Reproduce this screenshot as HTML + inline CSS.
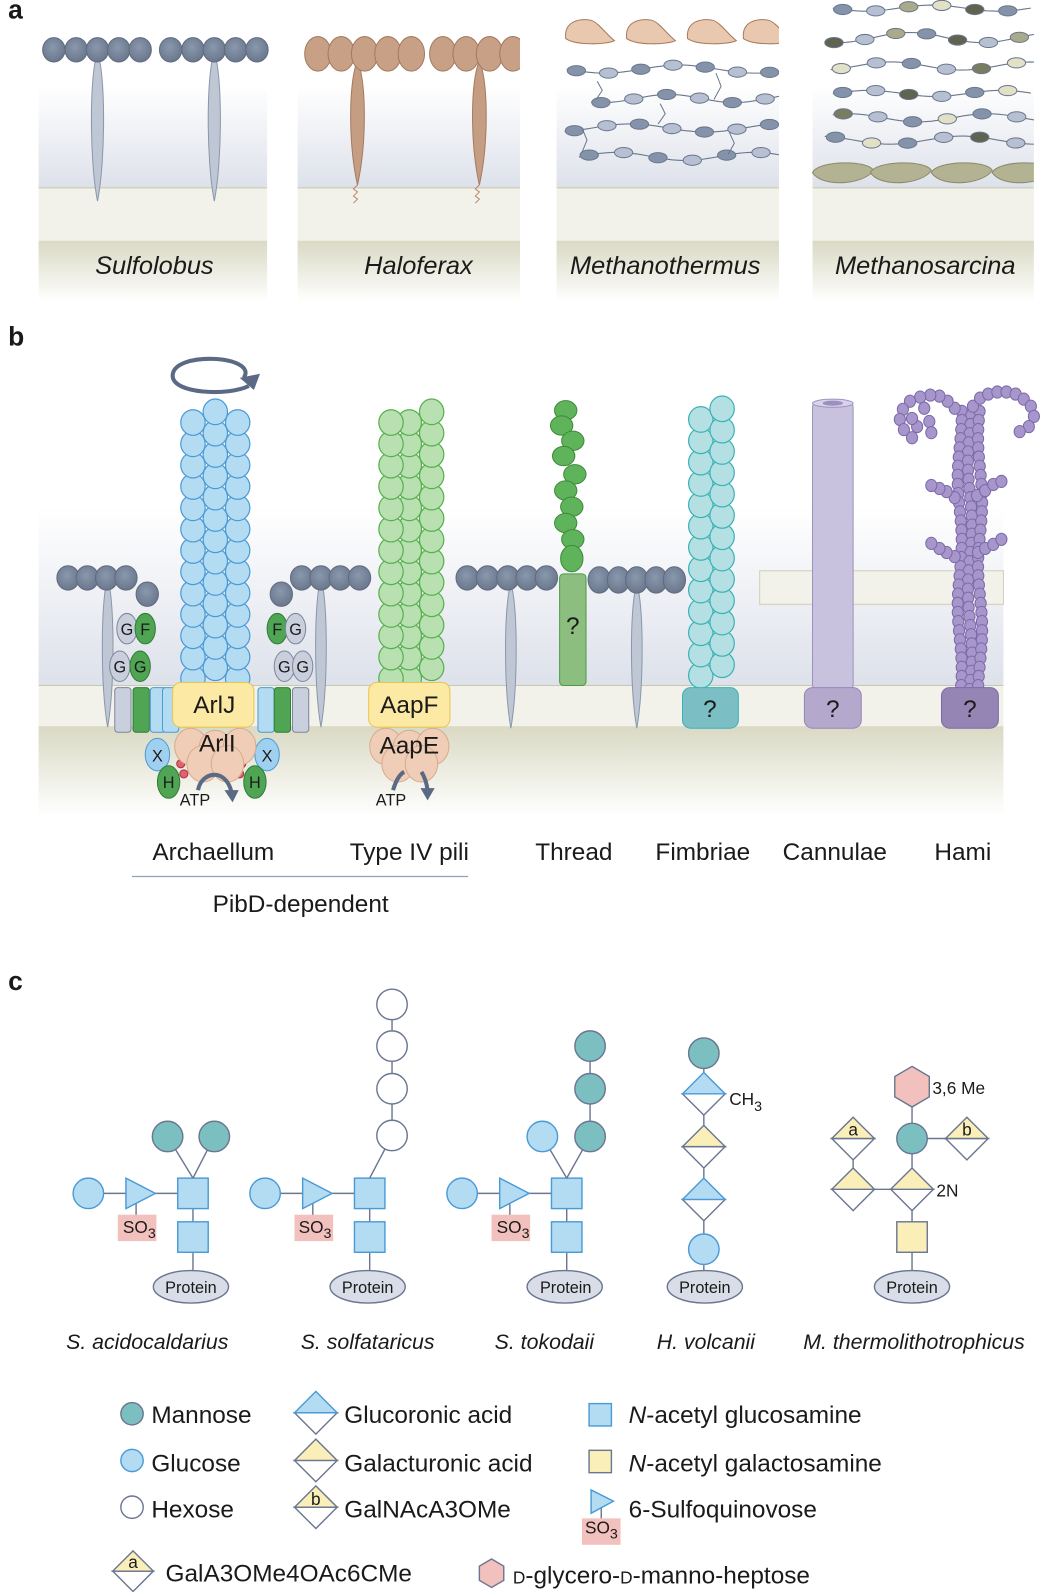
<!DOCTYPE html>
<html><head><meta charset="utf-8"><style>
html,body{margin:0;padding:0;background:#fff;width:1040px;height:1592px;overflow:hidden}
svg{display:block}
text{font-family:"Liberation Sans",sans-serif;fill:#1a1a1a}
</style></head><body>
<svg id="s" width="1040" height="1592" viewBox="0 0 1024 1567.5" preserveAspectRatio="none" xmlns="http://www.w3.org/2000/svg">
<defs>
<linearGradient id="sky" x1="0" y1="0" x2="0" y2="1"><stop offset="0" stop-color="#fff"/><stop offset="1" stop-color="#dde1ea"/></linearGradient>
<linearGradient id="band" x1="0" y1="0" x2="0" y2="1"><stop offset="0" stop-color="#d9d9c4"/><stop offset="1" stop-color="#fff"/></linearGradient>
<radialGradient id="gb" cx="0.45" cy="0.4" r="0.6"><stop offset="0" stop-color="#8a98ad"/><stop offset="1" stop-color="#6a778c"/></radialGradient>
</defs>
<g id="bg"></g>
<text x="8" y="18" font-size="26" font-weight="bold">a</text>
<text x="8" y="340" font-size="26" font-weight="bold">b</text>
<text x="8" y="975" font-size="26" font-weight="bold">c</text>
<g font-style="italic" font-size="25" text-anchor="middle">
<text x="152" y="270">Sulfolobus</text>
<text x="412" y="270">Haloferax</text>
<text x="655" y="270">Methanothermus</text>
<text x="911" y="270">Methanosarcina</text>
</g>
<g id="art"></g>
<g font-size="24" text-anchor="middle">
<text x="211" y="702">ArlJ</text>
<text x="214" y="740">ArlI</text>
<text x="403" y="702">AapF</text>
<text x="403" y="742">AapE</text>
<text x="564" y="624">?</text>
<text x="699" y="706">?</text>
<text x="820" y="706">?</text>
<text x="955" y="706">?</text>
</g>
<g font-size="16" text-anchor="middle">
<text x="192" y="793">ATP</text>
<text x="385" y="793">ATP</text>
<text x="125" y="625">G</text><text x="143" y="625">F</text>
<text x="118" y="662">G</text><text x="138" y="662">G</text>
<text x="273" y="625">F</text><text x="291" y="625">G</text>
<text x="280" y="662">G</text><text x="298" y="662">G</text>
<text x="155" y="750">X</text><text x="263" y="750">X</text>
<text x="166" y="776">H</text><text x="251" y="776">H</text>
</g>
<g font-size="24" text-anchor="middle">
<text x="210" y="847">Archaellum</text>
<text x="403" y="847">Type IV pili</text>
<text x="565" y="847">Thread</text>
<text x="692" y="847">Fimbriae</text>
<text x="822" y="847">Cannulae</text>
<text x="948" y="847">Hami</text>
<text x="296" y="898">PibD-dependent</text>
</g>
<line x1="130" y1="863" x2="461" y2="863" stroke="#8fa0c0" stroke-width="1.3"/>
<g id="glyc"></g>
<g font-size="16" text-anchor="middle">
<text x="188" y="1273">Protein</text><text x="362" y="1273">Protein</text><text x="557" y="1273">Protein</text>
<text x="694" y="1273">Protein</text><text x="898" y="1273">Protein</text>
</g>
<g font-size="17">
<text x="121" y="1214">SO<tspan font-size="14" dy="5">3</tspan></text>
<text x="294" y="1214">SO<tspan font-size="14" dy="5">3</tspan></text>
<text x="489" y="1214">SO<tspan font-size="14" dy="5">3</tspan></text>
<text x="576" y="1510">SO<tspan font-size="14" dy="5">3</tspan></text>
<text x="718" y="1088">CH<tspan font-size="14" dy="6">3</tspan></text>
<text x="918" y="1077">3,6 Me</text>
<text x="922" y="1178">2N</text>
<text x="840" y="1118" text-anchor="middle">a</text>
<text x="952" y="1118" text-anchor="middle">b</text>
<text x="311" y="1482" text-anchor="middle">b</text>
<text x="131" y="1544" text-anchor="middle">a</text>
</g>
<g font-size="21" font-style="italic" text-anchor="middle">
<text x="145" y="1328">S. acidocaldarius</text>
<text x="362" y="1328">S. solfataricus</text>
<text x="536" y="1328">S. tokodaii</text>
<text x="695" y="1328">H. volcanii</text>
<text x="900" y="1328">M. thermolithotrophicus</text>
</g>
<g font-size="24">
<text x="149" y="1401">Mannose</text>
<text x="149" y="1449">Glucose</text>
<text x="149" y="1494">Hexose</text>
<text x="339" y="1401">Glucoronic acid</text>
<text x="339" y="1449">Galacturonic acid</text>
<text x="339" y="1494">GalNAcA3OMe</text>
<text x="619" y="1401"><tspan font-style="italic">N</tspan>-acetyl glucosamine</text>
<text x="619" y="1449"><tspan font-style="italic">N</tspan>-acetyl galactosamine</text>
<text x="619" y="1494">6-Sulfoquinovose</text>
<text x="163" y="1557">GalA3OMe4OAc6CMe</text>
<text x="505" y="1559"><tspan font-size="17">D</tspan>-glycero-<tspan font-size="17">D</tspan>-manno-heptose</text>
</g>
</svg>
<script>
const NS="http://www.w3.org/2000/svg";
function el(g,t,a){const e=document.createElementNS(NS,t);for(const k in a)e.setAttribute(k,a[k]);document.getElementById(g).appendChild(e);return e;}
[[38,263],[293,512],[548,767],[800,1018]].forEach(([a,b])=>{
 el('bg','rect',{x:a,y:85,width:b-a,height:100,fill:'url(#sky)'});
 el('bg','rect',{x:a,y:185,width:b-a,height:52,fill:'#f2f2ea'});
 el('bg','line',{x1:a,y1:185,x2:b,y2:185,stroke:'#c8c8ae','stroke-width':1});
 el('bg','rect',{x:a,y:237,width:b-a,height:60,fill:'url(#band)'});
});
el('bg','rect',{x:38,y:500,width:950,height:175,fill:'url(#sky)'});
el('bg','rect',{x:38,y:675,width:950,height:40,fill:'#f2f2ea'});
el('bg','line',{x1:38,y1:675,x2:988,y2:675,stroke:'#c8c8ae'});
el('bg','rect',{x:38,y:715,width:950,height:88,fill:'url(#band)'});
el('bg','rect',{x:748,y:562,width:240,height:33,fill:'#f2f2ea',stroke:'#cfcfb8'});
const A='art';
function ell(x,y,rx,ry,f,s,w){return el(A,'ellipse',{cx:x,cy:y,rx:rx,ry:ry,fill:f,stroke:s||'none','stroke-width':w||1});}
function stalk(x,y1,y2,w,f,s){el(A,'path',{d:`M${x} ${y1} C${x+w} ${y1+20},${x+w} ${y2-40},${x} ${y2} C${x-w} ${y2-40},${x-w} ${y1+20},${x} ${y1}Z`,fill:f,stroke:s,'stroke-width':1});}
[96,211].forEach(x=>stalk(x,52,198,8,'#bfc7d5','#8b97ad'));
[53,75,96,117,138,168,190,211,232,253].forEach(x=>ell(x,49,11,12,'url(#gb)','#5f6b80'));
[352,472].forEach(x=>{stalk(x,60,182,9,'#c59d83','#a57a60');el(A,'path',{d:`M${x} 182 l-4 4 4 3 -4 4 4 3 -4 4`,fill:'none',stroke:'#b68a6e'});});
[313,336,359,382,405,436,459,482,505].forEach(x=>ell(x,53,13,17,'#c8a085','#a27a60'));
el(A,'rect',{x:512,y:30,width:20,height:50,fill:'#fff'});
[577,637,697,752].forEach(x=>el(A,'path',{d:`M${x-20} 38 C${x-22} 20,${x-5} 18,${x+5} 20 C${x+12} 22,${x+20} 34,${x+28} 40 C${x+20} 44,${x-10} 45,${x-20} 38Z`,fill:'#e8c9b0',stroke:'#a97a5c'}));
el(A,'rect',{x:767,y:10,width:30,height:40,fill:'#fff'});
function chain(x0,x1,y,amp,n,fills,ph){const pts=[];for(let i=0;i<=40;i++){const x=x0+(x1-x0)*i/40;const yy=y+amp*Math.sin(i/40*6.28*1.5+ph);pts.push(x+' '+yy.toFixed(1));}
 el(A,'polyline',{points:pts.join(','),fill:'none',stroke:'#6a778c','stroke-width':1.1});
 for(let i=0;i<n;i++){const t=(i+0.3)/n;const x=x0+(x1-x0)*t;const yy=y+amp*Math.sin(t*6.28*1.5+ph);ell(x,yy,9,5,fills[i%fills.length],'#6a778c',1);}}
const F1=['#8593aa','#b7c0d2'];
chain(558,780,68,4,7,F1,0);chain(582,776,97,4,6,F1,1);chain(556,780,126,4,7,F1,2);chain(570,773,154,4,6,F1,3);
[[588,80,587,98],[705,72,703,98],[650,102,648,122],[573,126,573,150],[718,130,717,152]].forEach(a=>el(A,'polyline',{points:`${a[0]},${a[1]} ${a[0]+5},${(a[1]+a[3])/2} ${a[2]},${a[3]}`,fill:'none',stroke:'#6a778c'}));
el(A,'rect',{x:767,y:55,width:30,height:120,fill:'#fff'});
const F2=['#8593aa','#b7c0d2','#a9aa8a','#e2e0c6','#5f6350'];
chain(820,1015,8,3,6,F2,0);chain(812,1025,37,5,7,['#5f6350','#b7c0d2','#a9aa8a','#8593aa'],1);chain(818,1025,65,4,6,['#e2e0c6','#b7c0d2','#8593aa','#b7c0d2','#7a7c62'],2);
chain(820,1015,92,3,6,['#8593aa','#b7c0d2','#5f6350','#b7c0d2','#8593aa','#e2e0c6'],3);chain(820,1025,116,4,6,['#7a7c62','#b7c0d2','#8593aa','#e2e0c6','#8593aa','#b7c0d2'],4);chain(812,1025,138,4,6,['#8593aa','#e2e0c6','#8593aa','#b7c0d2','#5f6350','#b7c0d2'],5);
[830,887,947,1007].forEach(x=>el(A,'path',{d:`M${x-30} 170 C${x-25} 158,${x+25} 157,${x+30} 168 C${x+20} 182,${x-20} 185,${x-30} 170Z`,fill:'#b3b393',stroke:'#8a8a6a'}));
el(A,'rect',{x:1018,y:0,width:22,height:300,fill:'#fff'});
stalk(106,570,716,7,'#bfc7d5','#8b97ad');stalk(316,570,716,7,'#bfc7d5','#8b97ad');
[67,86,105,124].forEach(x=>ell(x,569,11,12,'url(#gb)','#5f6b80'));ell(145,585,11,12,'url(#gb)','#5f6b80');
[297,316,335,354].forEach(x=>ell(x,569,11,12,'url(#gb)','#5f6b80'));ell(277,585,11,12,'url(#gb)','#5f6b80');
[[125,619,'#c9cfdc'],[143,619,'#4fa553'],[118,656,'#c9cfdc'],[138,656,'#4fa553'],[273,619,'#4fa553'],[291,619,'#c9cfdc'],[280,656,'#c9cfdc'],[298,656,'#c9cfdc']].forEach(a=>ell(a[0],a[1],10,15,a[2],a[2]=='#4fa553'?'#2f7d35':'#7c879c',1));
[[113,'#c9cfdc','#7c879c'],[131,'#4fa553','#2f7d35'],[148,'#b3dcf3','#4a9ad6'],[160,'#b3dcf3','#4a9ad6'],[254,'#b3dcf3','#4a9ad6'],[270,'#4fa553','#2f7d35'],[288,'#c9cfdc','#7c879c']].forEach(a=>el(A,'rect',{x:a[0],y:677,width:16,height:44,rx:3,fill:a[1],stroke:a[2]}));
[[155,743],[263,743]].forEach(a=>ell(a[0],a[1],12,16,'#9fd0f0','#4a9ad6'));
[[166,770],[251,770]].forEach(a=>ell(a[0],a[1],11,16,'#4fa553','#2f7d35'));
[[178,752],[181,762],[238,752],[236,762]].forEach(a=>ell(a[0],a[1],4,4,'#e06470','#b03040'));
function column(xs,y0,y1,r,f,s,step){xs.forEach((x,i)=>{for(let y=y1;y>=y0;y-=step)ell(x,y-(i%2)*step/2,r,r*1.05,f,s,1.2);});}
column([190,212,234],405,668,12,'#b3dcf3','#4a9ad6',21);
column([403],405,668,12,'#b9e0b0','#56b04e',21);
column([385,425],405,668,12,'#b9e0b0','#56b04e',21);
el(A,'rect',{x:170,y:672,width:80,height:44,rx:8,fill:'#fce9a3',stroke:'#e8c552'});
[[188,735],[212,737],[236,735],[200,752],[224,752]].forEach(a=>ell(a[0],a[1],16,18,'#efcdb6','#d7ab8e'));
el(A,'rect',{x:363,y:672,width:80,height:44,rx:8,fill:'#fce9a3',stroke:'#e8c552'});
[[380,735],[403,737],[426,735],[392,752],[415,752]].forEach(a=>ell(a[0],a[1],16,18,'#efcdb6','#d7ab8e'));
el(A,'path',{d:'M240 372 C255 350,170 345,170 370 C170 388,225 390,245 380',fill:'none',stroke:'#5a6a85','stroke-width':4});
el(A,'path',{d:'M236 372 L256 368 L250 384Z',fill:'#5a6a85'});
el(A,'path',{d:'M195 778 C198 760,222 755,228 780',fill:'none',stroke:'#5a6a85','stroke-width':4});
el(A,'path',{d:'M221 778 L235 778 L229 790Z',fill:'#5a6a85'});
el(A,'path',{d:'M387 778 C390 768,394 762,398 760 M415 760 C418 765,420 770,421 778',fill:'none',stroke:'#5a6a85','stroke-width':4});
el(A,'path',{d:'M414 776 L428 776 L421 788Z',fill:'#5a6a85'});
stalk(503,575,717,7,'#bfc7d5','#8b97ad');stalk(627,575,717,7,'#bfc7d5','#8b97ad');
[460,480,500,519,538].forEach(x=>ell(x,569,11,12,'url(#gb)','#5f6b80'));
[590,609,627,646,664].forEach(x=>ell(x,571,11,13,'url(#gb)','#5f6b80'));
el(A,'rect',{x:551,y:565,width:26,height:110,rx:4,fill:'#8cbf7f',stroke:'#4e9a4a'});
[[557,404],[553,419],[564,434],[555,449],[566,467],[557,483],[563,499],[557,515],[564,531]].forEach(a=>ell(a[0],a[1],11,9.5,'#5fb35a','#3d8a3a'));
ell(563,550,11,13,'#5fb35a','#3d8a3a');
column([690,711],410,665,12,'#b5e0e3','#3ab2b8',21);
el(A,'rect',{x:672,y:677,width:55,height:40,rx:8,fill:'#7bbfc4',stroke:'#3ab2b8'});
el(A,'rect',{x:800,y:395,width:40,height:285,rx:6,fill:'#c8c2de',stroke:'#9d93c0'});
ell(820,397,20,4,'#d8d3ea','#9d93c0');ell(820,397,10,2.5,'#9d90c0');
el(A,'rect',{x:792,y:677,width:56,height:40,rx:8,fill:'#b4a8cc',stroke:'#9587b8'});
for(let y=405;y<=675;y+=9){[945,955,965].forEach((x,i)=>ell(x+Math.sin(y/20+i)*2,y+(i%2)*4,5.5,6,'#a696cc','#7c6aa8',1));}
function arc(pts){pts.forEach(p=>ell(p[0],p[1],5.5,6,'#a696cc','#7c6aa8',1));}
arc([[940,402],[933,395],[925,390],[916,389],[906,391],[896,395],[889,403],[886,413],[890,423],[898,431],[903,420],[898,412],[910,402],[915,415],[917,426]]);
arc([[958,400],[965,392],[973,388],[982,386],[991,386],[1000,388],[1008,393],[1015,400],[1018,410],[1013,420],[1004,425]]);
arc([[940,490],[932,484],[925,481],[917,478]]);arc([[962,488],[970,483],[978,477],[986,474]]);
arc([[940,548],[932,544],[925,540],[917,535]]);arc([[963,544],[970,540],[978,536],[986,531]]);
el(A,'rect',{x:927,y:677,width:56,height:40,rx:8,fill:'#9585b5',stroke:'#7c6aa8'});
const G='glyc';
function L(a,b,c,d){el(G,'line',{x1:a,y1:b,x2:c,y2:d,stroke:'#6b7690','stroke-width':1.4});}
function C(x,y,f,s,r){el(G,'circle',{cx:x,cy:y,r:r||15,fill:f,stroke:s,'stroke-width':1.4});}
const MAN=['#7bbfc1','#6b7690'],GLU=['#b3dcf3','#4a9ad6'],HEX=['#fff','#6b7690'];
function SQ(x,y,f,s,h){h=h||15;el(G,'rect',{x:x-h,y:y-h,width:2*h,height:2*h,fill:f,stroke:s,'stroke-width':1.4});}
function TRI(x,y,s){s=s||1;el(G,'path',{d:`M${x-14*s} ${y-15*s} L${x+15*s} ${y} L${x-14*s} ${y+15*s}Z`,fill:'#b3dcf3',stroke:'#4a9ad6','stroke-width':1.4});}
function DIA(x,y,top,w,h){w=w||21;h=h||21;const tc=top=='b'?['#b3dcf3','#4a9ad6']:top=='y'?['#fbefb9','#6b7690']:['#fff','#6b7690'];
 el(G,'path',{d:`M${x-w} ${y} L${x} ${y+h} L${x+w} ${y}Z`,fill:'#fff',stroke:'#6b7690','stroke-width':1.4});
 el(G,'path',{d:`M${x-w} ${y} L${x} ${y-h} L${x+w} ${y}Z`,fill:tc[0],stroke:tc[1],'stroke-width':1.4});}
function PROT(x){el(G,'ellipse',{cx:x,cy:1267,rx:37,ry:16,fill:'#d9dde7',stroke:'#6b7690','stroke-width':1.4});}
function SO3(x,y){el(G,'rect',{x:x,y:y,width:38,height:26,fill:'#f2c0bd'});}
function sulf(o){L(o+87,1175,o+190,1175);L(o+190,1175,o+190,1267);L(o+134,1185,o+134,1200);SO3(o+116,1196);
 C(o+87,1175,...GLU);TRI(o+138,1175);SQ(o+190,1175,...GLU);SQ(o+190,1218,...GLU);PROT(o+188);}
sulf(0);L(190,1160,165,1119);L(190,1160,211,1119);C(165,1119,...MAN);C(211,1119,...MAN);
sulf(174);L(364,1160,386,1118);L(386,989,386,1118);[989,1030,1072,1118].forEach(y=>C(386,y,...HEX));
sulf(368);L(558,1160,534,1119);L(558,1160,581,1119);L(581,1030,581,1119);C(534,1119,...GLU);[1030,1072,1119].forEach(y=>C(581,y,...MAN));
L(693,1037,693,1267);C(693,1037,...MAN);DIA(693,1077,'b');DIA(693,1129,'y');DIA(693,1181,'b');C(693,1230,...GLU);PROT(694);
L(898,1070,898,1267);L(840,1121,840,1171);L(840,1171,898,1171);L(898,1121,952,1121);
el(G,'path',{d:'M898 1050 L915 1060 L915 1080 L898 1090 L881 1080 L881 1060Z',fill:'#f2c0bd',stroke:'#6b7690','stroke-width':1.4});
C(898,1121,...MAN);DIA(840,1121,'y');DIA(952,1121,'y');DIA(840,1171,'y');DIA(898,1171,'y');SQ(898,1218,'#fbefb9','#6b7690');PROT(898);
C(130,1392,...MAN,11);C(130,1438,...GLU,11);C(130,1484,...HEX,11);
DIA(311,1391,'b',21,21);DIA(311,1438,'y',21,21);DIA(311,1484,'y',21,21);
SQ(591,1393,...GLU,11);SQ(591,1439,'#fbefb9','#6b7690',11);
L(592,1483,592,1495);SO3(573,1495);el(G,'path',{d:'M582 1467 L604 1478 L582 1490Z',fill:'#b3dcf3',stroke:'#4a9ad6','stroke-width':1.4});
DIA(131,1547,'y',20,20);
el(G,'path',{d:'M484 1535 L496 1542 L496 1556 L484 1563 L472 1556 L472 1542Z',fill:'#f2c0bd',stroke:'#6b7690','stroke-width':1.4});
</script>
</body></html>
